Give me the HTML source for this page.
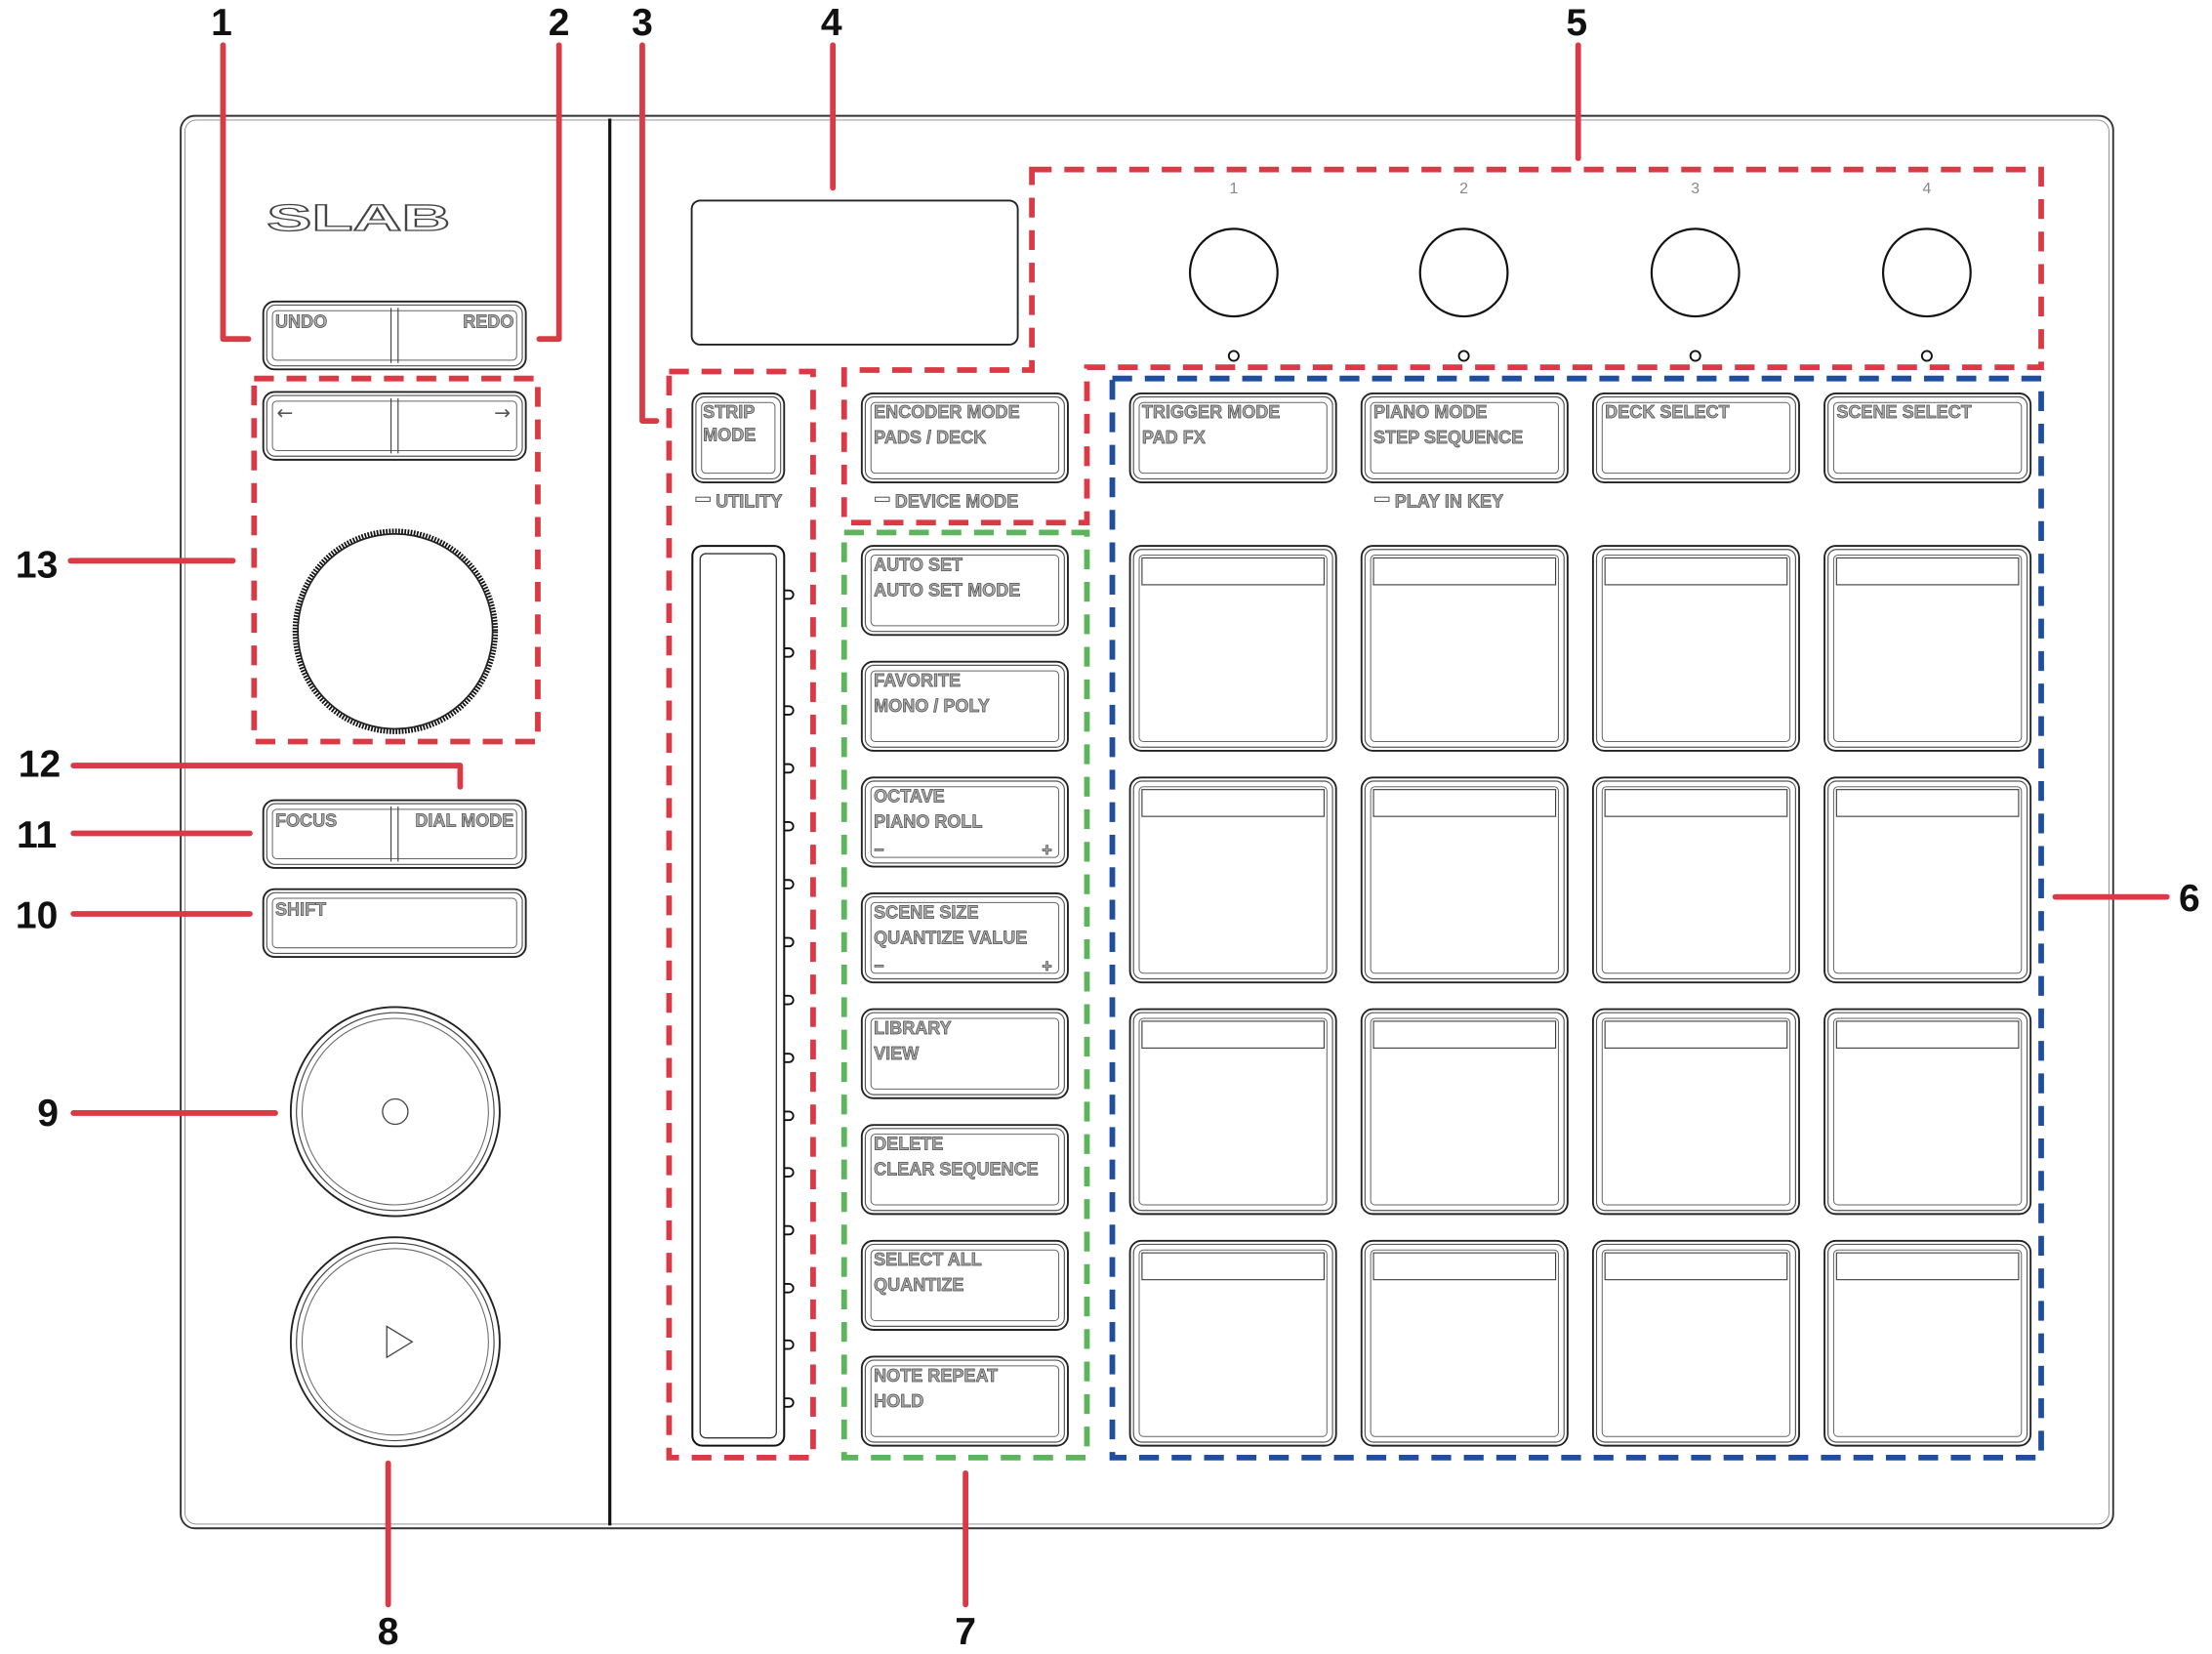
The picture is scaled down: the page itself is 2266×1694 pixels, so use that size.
<!DOCTYPE html>
<html><head><meta charset="utf-8"><style>
html,body{margin:0;padding:0;background:#fff;}
svg{display:block}
.n{font-family:"Liberation Sans",sans-serif;font-weight:bold;font-size:27px;fill:#111;text-anchor:middle}
.b{font-family:"Liberation Sans",sans-serif;font-weight:bold;font-size:12.5px;fill:#aaa;stroke:#444;stroke-width:0.45}
.s{font-family:"Liberation Sans",sans-serif;font-size:11px;fill:#888;text-anchor:middle}
.r{stroke:#d93a45;stroke-width:4;fill:none;stroke-linecap:round;stroke-linejoin:round}
</style></head><body>
<svg width="2266" height="1694" viewBox="0 0 1567 1171" preserveAspectRatio="none" xmlns="http://www.w3.org/2000/svg">
<defs>
<g id="btn">
<rect x="0.5" y="0.5" width="146" height="63" rx="8" fill="#fff" stroke="#222" stroke-width="1.3"/>
<rect x="3" y="3" width="141" height="58" rx="6" fill="none" stroke="#555" stroke-width="0.8"/>
<rect x="7" y="7" width="133" height="50" rx="3" fill="none" stroke="#666" stroke-width="0.7"/>
</g>
<g id="pad">
<rect x="0.5" y="0.5" width="146" height="145" rx="8" fill="#fff" stroke="#222" stroke-width="1.3"/>
<rect x="3" y="3" width="141" height="140" rx="6" fill="none" stroke="#555" stroke-width="0.8"/>
<rect x="7" y="7" width="133" height="132" rx="3" fill="none" stroke="#666" stroke-width="0.7"/>
<rect x="9" y="9" width="129" height="19" fill="none" stroke="#444" stroke-width="0.8"/>
</g>
<g id="wide">
<rect x="0.5" y="0.5" width="186" height="48" rx="8" fill="#fff" stroke="#222" stroke-width="1.3"/>
<rect x="3" y="3" width="181" height="43" rx="6" fill="none" stroke="#555" stroke-width="0.8"/>
<rect x="7" y="7" width="173" height="35" rx="3" fill="none" stroke="#666" stroke-width="0.7"/>
</g>
<g id="split">
<use href="#wide"/>
<line x1="91" y1="5" x2="91" y2="44" stroke="#444" stroke-width="0.8"/>
<line x1="96" y1="5" x2="96" y2="44" stroke="#444" stroke-width="0.8"/>
</g>
</defs>

<rect x="128" y="82" width="1369" height="1000" rx="10" fill="#fff" stroke="#333" stroke-width="1.3"/>
<rect x="131" y="85" width="1363" height="994" rx="8" fill="none" stroke="#888" stroke-width="0.6"/>
<line x1="432" y1="84" x2="432" y2="1080" stroke="#111" stroke-width="2.2"/>

<text x="254" y="163" font-family="Liberation Sans,sans-serif" font-weight="bold" font-size="26" fill="#fff" stroke="#444" stroke-width="0.9" text-anchor="middle" textLength="130" lengthAdjust="spacingAndGlyphs">SLAB</text>

<use href="#split" x="186" y="213"/>
<text class="b" x="195" y="232">UNDO</text>
<text class="b" x="364" y="232" text-anchor="end">REDO</text>
<use href="#split" x="186" y="277"/>
<text x="196" y="297" font-size="14" fill="#555" font-family="DejaVu Sans,sans-serif">←</text>
<text x="350" y="297" font-size="14" fill="#555" font-family="DejaVu Sans,sans-serif">→</text>

<circle cx="280" cy="447" r="71" fill="#fff" stroke="#111" stroke-width="3.5" stroke-dasharray="1.2 1"/>
<circle cx="280" cy="447" r="69" fill="none" stroke="#222" stroke-width="1.2"/>

<use href="#split" x="186" y="566"/>
<text class="b" x="195" y="585">FOCUS</text>
<text class="b" x="364" y="585" text-anchor="end">DIAL MODE</text>
<use href="#wide" x="186" y="629"/>
<text class="b" x="195" y="648">SHIFT</text>

<circle cx="280" cy="787" r="74" fill="#fff" stroke="#222" stroke-width="1.3"/>
<circle cx="280" cy="787" r="70" fill="none" stroke="#444" stroke-width="0.8"/>
<circle cx="280" cy="787" r="66" fill="none" stroke="#666" stroke-width="0.7"/>
<circle cx="280" cy="787" r="9" fill="none" stroke="#444" stroke-width="0.9"/>
<circle cx="280" cy="950" r="74" fill="#fff" stroke="#222" stroke-width="1.3"/>
<circle cx="280" cy="950" r="70" fill="none" stroke="#444" stroke-width="0.8"/>
<circle cx="280" cy="950" r="66" fill="none" stroke="#666" stroke-width="0.7"/>
<polygon points="274,939 292,950 274,961" fill="none" stroke="#444" stroke-width="0.9"/>

<rect x="490" y="142" width="231" height="102" rx="6" fill="#fff" stroke="#222" stroke-width="1.3"/>

<g fill="none" stroke="#111">
<circle cx="874" cy="193" r="31" stroke-width="1.5"/><circle cx="1037" cy="193" r="31" stroke-width="1.5"/>
<circle cx="1201" cy="193" r="31" stroke-width="1.5"/><circle cx="1365" cy="193" r="31" stroke-width="1.5"/>
<circle cx="874" cy="252" r="3.5" stroke-width="1.3"/><circle cx="1037" cy="252" r="3.5" stroke-width="1.3"/>
<circle cx="1201" cy="252" r="3.5" stroke-width="1.3"/><circle cx="1365" cy="252" r="3.5" stroke-width="1.3"/>
</g>
<text class="s" x="874" y="137">1</text><text class="s" x="1037" y="137">2</text>
<text class="s" x="1201" y="137">3</text><text class="s" x="1365" y="137">4</text>

<rect x="490.5" y="278.5" width="65" height="63" rx="8" fill="#fff" stroke="#222" stroke-width="1.3"/>
<rect x="493" y="281" width="60" height="58" rx="6" fill="none" stroke="#555" stroke-width="0.8"/>
<rect x="497" y="285" width="52" height="50" rx="3" fill="none" stroke="#666" stroke-width="0.7"/>
<text class="b" x="498" y="296">STRIP</text><text class="b" x="498" y="312">MODE</text>
<rect x="493" y="352" width="10" height="3" fill="none" stroke="#555" stroke-width="0.7"/>
<text class="b" x="507" y="359" font-size="11">UTILITY</text>

<g fill="none" stroke="#111" stroke-width="1.3">
<path d="M556,418h3a3,3 0 0 1 0,6h-3 M556,459h3a3,3 0 0 1 0,6h-3 M556,500h3a3,3 0 0 1 0,6h-3 M556,541h3a3,3 0 0 1 0,6h-3 M556,582h3a3,3 0 0 1 0,6h-3 M556,623h3a3,3 0 0 1 0,6h-3 M556,664h3a3,3 0 0 1 0,6h-3 M556,705h3a3,3 0 0 1 0,6h-3 M556,746h3a3,3 0 0 1 0,6h-3 M556,787h3a3,3 0 0 1 0,6h-3 M556,827h3a3,3 0 0 1 0,6h-3 M556,868h3a3,3 0 0 1 0,6h-3 M556,909h3a3,3 0 0 1 0,6h-3 M556,949h3a3,3 0 0 1 0,6h-3 M556,990h3a3,3 0 0 1 0,6h-3"/>
</g>
<rect x="490.5" y="386.5" width="65" height="637" rx="7" fill="#fff" stroke="#111" stroke-width="1.4"/>
<rect x="496" y="392" width="54" height="626" rx="4" fill="none" stroke="#333" stroke-width="0.9"/>

<use href="#btn" x="610" y="278"/>
<text class="b" x="619" y="296">ENCODER MODE</text><text class="b" x="619" y="314" font-size="11.5">PADS / DECK</text>
<rect x="620" y="352" width="10" height="3" fill="none" stroke="#555" stroke-width="0.7"/>
<text class="b" x="634" y="359" font-size="11">DEVICE MODE</text>

<use href="#btn" x="610" y="386"/><text class="b" x="619" y="404">AUTO SET</text><text class="b" x="619" y="422" font-size="11.5">AUTO SET MODE</text>
<use href="#btn" x="610" y="468"/><text class="b" x="619" y="486">FAVORITE</text><text class="b" x="619" y="504" font-size="11.5">MONO / POLY</text>
<use href="#btn" x="610" y="550"/><text class="b" x="619" y="568">OCTAVE</text><text class="b" x="619" y="586" font-size="11.5">PIANO ROLL</text>
<text class="b" x="619" y="606">−</text><text class="b" x="738" y="606">+</text>
<use href="#btn" x="610" y="632"/><text class="b" x="619" y="650">SCENE SIZE</text><text class="b" x="619" y="668" font-size="11.5">QUANTIZE VALUE</text>
<text class="b" x="619" y="688">−</text><text class="b" x="738" y="688">+</text>
<use href="#btn" x="610" y="714"/><text class="b" x="619" y="732">LIBRARY</text><text class="b" x="619" y="750" font-size="11.5">VIEW</text>
<use href="#btn" x="610" y="796"/><text class="b" x="619" y="814">DELETE</text><text class="b" x="619" y="832" font-size="11.5">CLEAR SEQUENCE</text>
<use href="#btn" x="610" y="878"/><text class="b" x="619" y="896">SELECT ALL</text><text class="b" x="619" y="914" font-size="11.5">QUANTIZE</text>
<use href="#btn" x="610" y="960"/><text class="b" x="619" y="978">NOTE REPEAT</text><text class="b" x="619" y="996" font-size="11.5">HOLD</text>

<use href="#btn" x="800" y="278"/><text class="b" x="809" y="296">TRIGGER MODE</text><text class="b" x="809" y="314" font-size="11.5">PAD FX</text>
<use href="#btn" x="964" y="278"/><text class="b" x="973" y="296">PIANO MODE</text><text class="b" x="973" y="314" font-size="11.5">STEP SEQUENCE</text>
<use href="#btn" x="1128" y="278"/><text class="b" x="1137" y="296">DECK SELECT</text>
<use href="#btn" x="1292" y="278"/><text class="b" x="1301" y="296">SCENE SELECT</text>
<rect x="974" y="352" width="10" height="3" fill="none" stroke="#555" stroke-width="0.7"/>
<text class="b" x="988" y="359" font-size="11">PLAY IN KEY</text>

<use href="#pad" x="800" y="386"/><use href="#pad" x="964" y="386"/><use href="#pad" x="1128" y="386"/><use href="#pad" x="1292" y="386"/>
<use href="#pad" x="800" y="550"/><use href="#pad" x="964" y="550"/><use href="#pad" x="1128" y="550"/><use href="#pad" x="1292" y="550"/>
<use href="#pad" x="800" y="714"/><use href="#pad" x="964" y="714"/><use href="#pad" x="1128" y="714"/><use href="#pad" x="1292" y="714"/>
<use href="#pad" x="800" y="878"/><use href="#pad" x="964" y="878"/><use href="#pad" x="1128" y="878"/><use href="#pad" x="1292" y="878"/>

<g fill="none" stroke-width="4" stroke-dasharray="14 9">
<rect x="180" y="268" width="201" height="257" stroke="#d93a45"/>
<rect x="474" y="263" width="102" height="769" stroke="#d93a45"/>
<path d="M731,120 H1446 V260 H770 V370 H598 V262 H731 Z" stroke="#d93a45"/>
<rect x="598" y="377" width="172" height="655" stroke="#5cb55c"/>
<rect x="788" y="268" width="658" height="764" stroke="#1f4e9e"/>
</g>

<path class="r" d="M158,32 V240 H176"/>
<path class="r" d="M396,32 V240 H382"/>
<path class="r" d="M455,32 V298 H465"/>
<path class="r" d="M590,32 V133"/>
<path class="r" d="M1118,32 V112"/>
<path class="r" d="M1456,635 H1535"/>
<path class="r" d="M684,1043 V1136"/>
<path class="r" d="M275,1036 V1136"/>
<path class="r" d="M52,788 H195"/>
<path class="r" d="M52,647 H177"/>
<path class="r" d="M52,590 H177"/>
<path class="r" d="M52,542 H326 V557"/>
<path class="r" d="M50,397 H165"/>

<text class="n" x="157" y="25">1</text>
<text class="n" x="396" y="25">2</text>
<text class="n" x="455" y="25">3</text>
<text class="n" x="589" y="25">4</text>
<text class="n" x="1117" y="25">5</text>
<text class="n" x="1551" y="645">6</text>
<text class="n" x="684" y="1164">7</text>
<text class="n" x="275" y="1164">8</text>
<text class="n" x="34" y="797">9</text>
<text class="n" x="26" y="657">10</text>
<text class="n" x="26" y="600">11</text>
<text class="n" x="28" y="550">12</text>
<text class="n" x="26" y="409">13</text>
</svg>
</body></html>
